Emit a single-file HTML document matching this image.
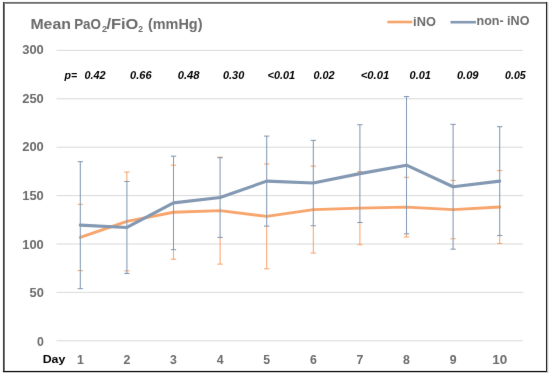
<!DOCTYPE html><html><head><meta charset="utf-8"><style>html,body{margin:0;padding:0;background:#fff;width:550px;height:375px;overflow:hidden}svg{display:block;}text{font-family:"Liberation Sans",sans-serif;font-weight:bold}</style></head><body>
<svg width="550" height="375" viewBox="0 0 550 375">
<rect width="550" height="375" fill="#fff"/>
<defs><filter id="soft" filterUnits="userSpaceOnUse" x="0" y="0" width="550" height="375" color-interpolation-filters="sRGB"><feConvolveMatrix order="3" kernelMatrix="0.0036 0.0528 0.0036 0.0528 0.7744 0.0528 0.0036 0.0528 0.0036" divisor="1" edgeMode="none"/></filter></defs>
<g filter="url(#soft)"><rect width="550" height="375" fill="#fff"/>
<line x1="56.5" x2="523" y1="340.76" y2="340.76" stroke="#D9D9D9" stroke-width="1"/>
<line x1="56.5" x2="523" y1="292.37" y2="292.37" stroke="#D9D9D9" stroke-width="1"/>
<line x1="56.5" x2="523" y1="243.97" y2="243.97" stroke="#D9D9D9" stroke-width="1"/>
<line x1="56.5" x2="523" y1="195.58" y2="195.58" stroke="#D9D9D9" stroke-width="1"/>
<line x1="56.5" x2="523" y1="147.19" y2="147.19" stroke="#D9D9D9" stroke-width="1"/>
<line x1="56.5" x2="523" y1="98.79" y2="98.79" stroke="#D9D9D9" stroke-width="1"/>
<line x1="56.5" x2="523" y1="50.40" y2="50.40" stroke="#D9D9D9" stroke-width="1"/>
<polyline points="80.30,237.49 126.90,221.45 173.50,212.22 220.10,210.66 266.70,216.40 313.30,209.59 359.90,208.14 406.50,207.16 453.10,209.59 499.70,207.07" fill="none" stroke="#F8A56C" stroke-width="2.9" stroke-linejoin="round" stroke-linecap="round"/>
<line x1="77.65" x2="82.95" y1="204.35" y2="204.35" stroke="#F8A56C" stroke-width="1.05"/>
<line x1="77.65" x2="82.95" y1="270.64" y2="270.64" stroke="#F8A56C" stroke-width="1.05"/>
<line x1="126.90" x2="126.90" y1="172.07" y2="181.50" stroke="#F8A56C" stroke-width="1.05"/>
<line x1="124.25" x2="129.55" y1="172.07" y2="172.07" stroke="#F8A56C" stroke-width="1.05"/>
<line x1="124.25" x2="129.55" y1="270.83" y2="270.83" stroke="#F8A56C" stroke-width="1.05"/>
<line x1="173.50" x2="173.50" y1="249.64" y2="259.26" stroke="#F8A56C" stroke-width="1.05"/>
<line x1="170.85" x2="176.15" y1="165.17" y2="165.17" stroke="#F8A56C" stroke-width="1.05"/>
<line x1="170.85" x2="176.15" y1="259.26" y2="259.26" stroke="#F8A56C" stroke-width="1.05"/>
<line x1="220.10" x2="220.10" y1="237.39" y2="264.12" stroke="#F8A56C" stroke-width="1.05"/>
<line x1="220.10" x2="220.10" y1="157.20" y2="157.69" stroke="#F8A56C" stroke-width="1.05"/>
<line x1="217.45" x2="222.75" y1="157.20" y2="157.20" stroke="#F8A56C" stroke-width="1.05"/>
<line x1="217.45" x2="222.75" y1="264.12" y2="264.12" stroke="#F8A56C" stroke-width="1.05"/>
<line x1="266.70" x2="266.70" y1="226.12" y2="268.79" stroke="#F8A56C" stroke-width="1.05"/>
<line x1="264.05" x2="269.35" y1="164.01" y2="164.01" stroke="#F8A56C" stroke-width="1.05"/>
<line x1="264.05" x2="269.35" y1="268.79" y2="268.79" stroke="#F8A56C" stroke-width="1.05"/>
<line x1="313.30" x2="313.30" y1="225.73" y2="253.04" stroke="#F8A56C" stroke-width="1.05"/>
<line x1="310.65" x2="315.95" y1="166.15" y2="166.15" stroke="#F8A56C" stroke-width="1.05"/>
<line x1="310.65" x2="315.95" y1="253.04" y2="253.04" stroke="#F8A56C" stroke-width="1.05"/>
<line x1="359.90" x2="359.90" y1="222.52" y2="244.68" stroke="#F8A56C" stroke-width="1.05"/>
<line x1="357.25" x2="362.55" y1="171.59" y2="171.59" stroke="#F8A56C" stroke-width="1.05"/>
<line x1="357.25" x2="362.55" y1="244.68" y2="244.68" stroke="#F8A56C" stroke-width="1.05"/>
<line x1="406.50" x2="406.50" y1="233.80" y2="237.00" stroke="#F8A56C" stroke-width="1.05"/>
<line x1="403.85" x2="409.15" y1="177.32" y2="177.32" stroke="#F8A56C" stroke-width="1.05"/>
<line x1="403.85" x2="409.15" y1="237.00" y2="237.00" stroke="#F8A56C" stroke-width="1.05"/>
<line x1="450.45" x2="455.75" y1="180.43" y2="180.43" stroke="#F8A56C" stroke-width="1.05"/>
<line x1="450.45" x2="455.75" y1="238.75" y2="238.75" stroke="#F8A56C" stroke-width="1.05"/>
<line x1="499.70" x2="499.70" y1="235.55" y2="243.52" stroke="#F8A56C" stroke-width="1.05"/>
<line x1="497.05" x2="502.35" y1="170.62" y2="170.62" stroke="#F8A56C" stroke-width="1.05"/>
<line x1="497.05" x2="502.35" y1="243.52" y2="243.52" stroke="#F8A56C" stroke-width="1.05"/>
<polyline points="80.30,225.15 126.90,227.48 173.50,202.89 220.10,197.54 266.70,181.11 313.30,183.06 359.90,173.63 406.50,165.17 453.10,186.75 499.70,181.11" fill="none" stroke="#8398B2" stroke-width="3.1" stroke-linejoin="round" stroke-linecap="round"/>
<line x1="80.30" x2="80.30" y1="161.67" y2="288.62" stroke="#8398B2" stroke-width="1.05"/>
<line x1="77.65" x2="82.95" y1="161.67" y2="161.67" stroke="#8398B2" stroke-width="1.05"/>
<line x1="77.65" x2="82.95" y1="288.62" y2="288.62" stroke="#8398B2" stroke-width="1.05"/>
<line x1="126.90" x2="126.90" y1="181.50" y2="273.45" stroke="#8398B2" stroke-width="1.05"/>
<line x1="124.25" x2="129.55" y1="181.50" y2="181.50" stroke="#8398B2" stroke-width="1.05"/>
<line x1="124.25" x2="129.55" y1="273.45" y2="273.45" stroke="#8398B2" stroke-width="1.05"/>
<line x1="173.50" x2="173.50" y1="156.13" y2="249.64" stroke="#8398B2" stroke-width="1.05"/>
<line x1="170.85" x2="176.15" y1="156.13" y2="156.13" stroke="#8398B2" stroke-width="1.05"/>
<line x1="170.85" x2="176.15" y1="249.64" y2="249.64" stroke="#8398B2" stroke-width="1.05"/>
<line x1="220.10" x2="220.10" y1="157.69" y2="237.39" stroke="#8398B2" stroke-width="1.05"/>
<line x1="217.45" x2="222.75" y1="157.69" y2="157.69" stroke="#8398B2" stroke-width="1.05"/>
<line x1="217.45" x2="222.75" y1="237.39" y2="237.39" stroke="#8398B2" stroke-width="1.05"/>
<line x1="266.70" x2="266.70" y1="136.11" y2="226.12" stroke="#8398B2" stroke-width="1.05"/>
<line x1="264.05" x2="269.35" y1="136.11" y2="136.11" stroke="#8398B2" stroke-width="1.05"/>
<line x1="264.05" x2="269.35" y1="226.12" y2="226.12" stroke="#8398B2" stroke-width="1.05"/>
<line x1="313.30" x2="313.30" y1="140.39" y2="225.73" stroke="#8398B2" stroke-width="1.05"/>
<line x1="310.65" x2="315.95" y1="140.39" y2="140.39" stroke="#8398B2" stroke-width="1.05"/>
<line x1="310.65" x2="315.95" y1="225.73" y2="225.73" stroke="#8398B2" stroke-width="1.05"/>
<line x1="359.90" x2="359.90" y1="124.74" y2="222.52" stroke="#8398B2" stroke-width="1.05"/>
<line x1="357.25" x2="362.55" y1="124.74" y2="124.74" stroke="#8398B2" stroke-width="1.05"/>
<line x1="357.25" x2="362.55" y1="222.52" y2="222.52" stroke="#8398B2" stroke-width="1.05"/>
<line x1="406.50" x2="406.50" y1="96.55" y2="233.80" stroke="#8398B2" stroke-width="1.05"/>
<line x1="403.85" x2="409.15" y1="96.55" y2="96.55" stroke="#8398B2" stroke-width="1.05"/>
<line x1="403.85" x2="409.15" y1="233.80" y2="233.80" stroke="#8398B2" stroke-width="1.05"/>
<line x1="453.10" x2="453.10" y1="124.35" y2="249.15" stroke="#8398B2" stroke-width="1.05"/>
<line x1="450.45" x2="455.75" y1="124.35" y2="124.35" stroke="#8398B2" stroke-width="1.05"/>
<line x1="450.45" x2="455.75" y1="249.15" y2="249.15" stroke="#8398B2" stroke-width="1.05"/>
<line x1="499.70" x2="499.70" y1="126.68" y2="235.55" stroke="#8398B2" stroke-width="1.05"/>
<line x1="497.05" x2="502.35" y1="126.68" y2="126.68" stroke="#8398B2" stroke-width="1.05"/>
<line x1="497.05" x2="502.35" y1="235.55" y2="235.55" stroke="#8398B2" stroke-width="1.05"/>
<line x1="387.3" x2="412.3" y1="22" y2="22" stroke="#F8A56C" stroke-width="2.6"/>
<line x1="450.5" x2="475.9" y1="22.2" y2="22.2" stroke="#8398B2" stroke-width="2.6"/>
<text x="30.45" y="28.60" font-size="14.79" fill="#6b6b6b" textLength="40.39" lengthAdjust="spacingAndGlyphs">Mean</text>
<text x="74.17" y="28.60" font-size="14.79" fill="#6b6b6b" textLength="26.85" lengthAdjust="spacingAndGlyphs">PaO</text>
<text x="102.02" y="32.30" font-size="8.5" fill="#6b6b6b" textLength="5.16" lengthAdjust="spacingAndGlyphs">2</text>
<text x="106.42" y="28.60" font-size="14.79" fill="#6b6b6b" textLength="31.97" lengthAdjust="spacingAndGlyphs">/FiO</text>
<text x="138.29" y="32.30" font-size="8.54" fill="#6b6b6b" textLength="4.72" lengthAdjust="spacingAndGlyphs">2</text>
<text x="147.93" y="28.60" font-size="14.79" fill="#6b6b6b" textLength="54.53" lengthAdjust="spacingAndGlyphs">(mmHg)</text>
<text x="413.12" y="25.60" font-size="12.0" fill="#6b6b6b" textLength="22.71" lengthAdjust="spacingAndGlyphs">iNO</text>
<text x="476.53" y="25.30" font-size="12.0" fill="#6b6b6b" textLength="52.88" lengthAdjust="spacingAndGlyphs">non- iNO</text>
<text x="42.65" y="362.50" font-size="10.74" fill="#000000" textLength="22.66" lengthAdjust="spacingAndGlyphs">Day</text>
<text x="43.80" y="345.70" font-size="12.3" fill="#6b6b6b" text-anchor="end">0</text>
<text x="43.80" y="297.10" font-size="12.3" fill="#6b6b6b" text-anchor="end" textLength="14.30" lengthAdjust="spacingAndGlyphs">50</text>
<text x="43.80" y="248.50" font-size="12.3" fill="#6b6b6b" text-anchor="end" textLength="21.60" lengthAdjust="spacingAndGlyphs">100</text>
<text x="43.80" y="199.90" font-size="12.3" fill="#6b6b6b" text-anchor="end" textLength="21.60" lengthAdjust="spacingAndGlyphs">150</text>
<text x="43.80" y="151.30" font-size="12.3" fill="#6b6b6b" text-anchor="end" textLength="21.60" lengthAdjust="spacingAndGlyphs">200</text>
<text x="43.80" y="102.70" font-size="12.3" fill="#6b6b6b" text-anchor="end" textLength="21.60" lengthAdjust="spacingAndGlyphs">250</text>
<text x="43.80" y="54.10" font-size="12.3" fill="#6b6b6b" text-anchor="end" textLength="21.60" lengthAdjust="spacingAndGlyphs">300</text>
<text x="80.30" y="363.70" font-size="12.3" fill="#6b6b6b" text-anchor="middle">1</text>
<text x="126.90" y="363.70" font-size="12.3" fill="#6b6b6b" text-anchor="middle">2</text>
<text x="173.50" y="363.70" font-size="12.3" fill="#6b6b6b" text-anchor="middle">3</text>
<text x="220.10" y="363.70" font-size="12.3" fill="#6b6b6b" text-anchor="middle">4</text>
<text x="266.70" y="363.70" font-size="12.3" fill="#6b6b6b" text-anchor="middle">5</text>
<text x="313.30" y="363.70" font-size="12.3" fill="#6b6b6b" text-anchor="middle">6</text>
<text x="359.90" y="363.70" font-size="12.3" fill="#6b6b6b" text-anchor="middle">7</text>
<text x="406.50" y="363.70" font-size="12.3" fill="#6b6b6b" text-anchor="middle">8</text>
<text x="453.10" y="363.70" font-size="12.3" fill="#6b6b6b" text-anchor="middle">9</text>
<text x="499.70" y="363.70" font-size="12.3" fill="#6b6b6b" text-anchor="middle" textLength="15.00" lengthAdjust="spacingAndGlyphs">10</text>
<text x="64.51" y="79.18" font-size="11.47" fill="#000000" font-style="italic" textLength="12.56" lengthAdjust="spacingAndGlyphs">p=</text>
<text x="84.48" y="78.80" font-size="11.34" fill="#000000" font-style="italic" textLength="21.19" lengthAdjust="spacingAndGlyphs">0.42</text>
<text x="129.99" y="78.80" font-size="11.7" fill="#000000" font-style="italic" textLength="21.56" lengthAdjust="spacingAndGlyphs">0.66</text>
<text x="177.74" y="78.80" font-size="11.41" fill="#000000" font-style="italic" textLength="21.83" lengthAdjust="spacingAndGlyphs">0.48</text>
<text x="222.90" y="78.84" font-size="11.68" fill="#000000" font-style="italic" textLength="21.37" lengthAdjust="spacingAndGlyphs">0.30</text>
<text x="267.51" y="78.80" font-size="11.46" fill="#000000" font-style="italic" textLength="27.71" lengthAdjust="spacingAndGlyphs">&lt;0.01</text>
<text x="313.50" y="78.80" font-size="11.57" fill="#000000" font-style="italic" textLength="21.17" lengthAdjust="spacingAndGlyphs">0.02</text>
<text x="360.68" y="78.80" font-size="11.38" fill="#000000" font-style="italic" textLength="28.53" lengthAdjust="spacingAndGlyphs">&lt;0.01</text>
<text x="409.52" y="78.80" font-size="11.56" fill="#000000" font-style="italic" textLength="21.48" lengthAdjust="spacingAndGlyphs">0.01</text>
<text x="456.89" y="78.80" font-size="11.61" fill="#000000" font-style="italic" textLength="21.66" lengthAdjust="spacingAndGlyphs">0.09</text>
<text x="505.02" y="78.87" font-size="11.36" fill="#000000" font-style="italic" textLength="20.70" lengthAdjust="spacingAndGlyphs">0.05</text>
</g>
<rect x="3" y="1" width="544" height="1" fill="#f2f2f2"/>
<rect x="3" y="2" width="544" height="1" fill="#757575"/>
<rect x="4" y="3" width="542" height="1" fill="#909090"/>
<rect x="2" y="2" width="1" height="370" fill="#ececec"/>
<rect x="3" y="2" width="1" height="370" fill="#4a4a4a"/>
<rect x="4" y="3" width="1" height="368" fill="#747474"/>
<rect x="5" y="370" width="541" height="1" fill="#e2e2e2"/>
<rect x="3" y="371" width="544" height="1" fill="#1e1e1e"/>
<rect x="3" y="372" width="545" height="1" fill="#c4c4c4"/>
<rect x="545" y="4" width="1" height="366" fill="#f0f0f0"/>
<rect x="546" y="2" width="1" height="370" fill="#333333"/>
<rect x="547" y="2" width="1" height="370" fill="#bbbbbb"/>
<rect x="548" y="2" width="1" height="371" fill="#eeeeee"/>
</svg></body></html>
